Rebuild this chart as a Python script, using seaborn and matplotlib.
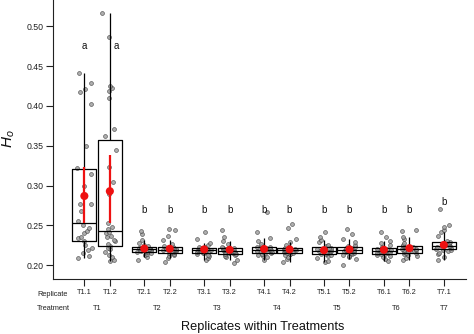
import numpy as np
import pandas as pd
import matplotlib
matplotlib.use("Agg")
import matplotlib.pyplot as plt
import seaborn as sns
from matplotlib.transforms import blended_transform_factory

# Observed heterozygosity (Ho) per replicate
replicates = ["T1.1", "T1.2", "T2.1", "T2.2", "T3.1", "T3.2", "T4.1", "T4.2",
              "T5.1", "T5.2", "T6.1", "T6.2", "T7.1"]
treatments = ["T1", "T2", "T3", "T4", "T5", "T6", "T7"]

ho_t1_1 = [0.209, 0.212, 0.215, 0.219, 0.222, 0.226, 0.230, 0.234, 0.236, 0.240,
           0.243, 0.247, 0.251, 0.256, 0.268, 0.277, 0.277, 0.300, 0.315, 0.322,
           0.350, 0.403, 0.418, 0.421, 0.429, 0.441]
ho_t1_2 = [0.205, 0.207, 0.210, 0.213, 0.217, 0.220, 0.222, 0.224, 0.227, 0.230,
           0.232, 0.235, 0.237, 0.240, 0.242, 0.245, 0.2485, 0.2535, 0.290, 0.304,
           0.323, 0.345, 0.362, 0.371, 0.410, 0.419, 0.423, 0.425, 0.487, 0.517]
ho_t2_1 = [0.207, 0.211, 0.213, 0.214, 0.215, 0.2165, 0.2173, 0.218, 0.2185, 0.219,
           0.2195, 0.2198, 0.2202, 0.2206, 0.221, 0.2215, 0.222, 0.2232, 0.224,
           0.2255, 0.228, 0.232, 0.239, 0.243]
ho_t2_2 = [0.2045, 0.2088, 0.2115, 0.2130, 0.2142, 0.2152, 0.2160, 0.2168, 0.2176,
           0.2183, 0.2189, 0.2193, 0.2197, 0.2203, 0.2210, 0.2216, 0.2222, 0.2230,
           0.2236, 0.2262, 0.2320, 0.2372, 0.2440, 0.2452]
ho_t3_1 = [0.2067, 0.2095, 0.2120, 0.2135, 0.2146, 0.2153, 0.2160, 0.2166, 0.2172,
           0.2178, 0.2184, 0.2188, 0.2192, 0.2197, 0.2203, 0.2210, 0.2216, 0.2224,
           0.2233, 0.2250, 0.2280, 0.2330, 0.2422]
ho_t3_2 = [0.2025, 0.2070, 0.2100, 0.2118, 0.2128, 0.2137, 0.2144, 0.2152, 0.2160,
           0.2167, 0.2172, 0.2176, 0.2180, 0.2185, 0.2192, 0.2198, 0.2204, 0.2211,
           0.2218, 0.2235, 0.2265, 0.2300, 0.2360, 0.2443]
ho_t4_1 = [0.2070, 0.2100, 0.2122, 0.2135, 0.2145, 0.2153, 0.2160, 0.2168, 0.2177,
           0.2184, 0.2190, 0.2193, 0.2197, 0.2203, 0.2210, 0.2217, 0.2224, 0.2231,
           0.2243, 0.2268, 0.2300, 0.2340, 0.2422, 0.2673]
ho_t4_2 = [0.2045, 0.2085, 0.2110, 0.2125, 0.2137, 0.2146, 0.2152, 0.2160, 0.2168,
           0.2175, 0.2180, 0.2184, 0.2188, 0.2194, 0.2200, 0.2207, 0.2213, 0.2220,
           0.2228, 0.2250, 0.2290, 0.2330, 0.2472, 0.2519]
ho_t5_1 = [0.2040, 0.2060, 0.2095, 0.2115, 0.2128, 0.2138, 0.2144, 0.2153, 0.2162,
           0.2170, 0.2177, 0.2182, 0.2186, 0.2192, 0.2199, 0.2206, 0.2213, 0.2222,
           0.2240, 0.2258, 0.2290, 0.2320, 0.2360, 0.2422]
ho_t5_2 = [0.2004, 0.2075, 0.2105, 0.2122, 0.2135, 0.2145, 0.2152, 0.2160, 0.2168,
           0.2176, 0.2183, 0.2188, 0.2192, 0.2198, 0.2205, 0.2212, 0.2220, 0.2228,
           0.2236, 0.2255, 0.2290, 0.2330, 0.2390, 0.2452]
ho_t6_1 = [0.2057, 0.2085, 0.2105, 0.2118, 0.2128, 0.2137, 0.2144, 0.2152, 0.2160,
           0.2167, 0.2173, 0.2178, 0.2182, 0.2188, 0.2195, 0.2202, 0.2210, 0.2219,
           0.2230, 0.2250, 0.2280, 0.2310, 0.2350, 0.2422]
ho_t6_2 = [0.2067, 0.2095, 0.2118, 0.2132, 0.2143, 0.2152, 0.2160, 0.2170, 0.2178,
           0.2186, 0.2192, 0.2197, 0.2203, 0.2210, 0.2218, 0.2226, 0.2234, 0.2243,
           0.2255, 0.2280, 0.2330, 0.2359, 0.2434, 0.2443]
ho_t7_1 = [0.2067, 0.2110, 0.2140, 0.2160, 0.2175, 0.2188, 0.2198, 0.2210, 0.2218,
           0.2226, 0.2233, 0.2238, 0.2243, 0.2247, 0.2253, 0.2260, 0.2268, 0.2278,
           0.2290, 0.2300, 0.2368, 0.2422, 0.2443, 0.2485, 0.2506, 0.2703]

ho_values = [ho_t1_1, ho_t1_2, ho_t2_1, ho_t2_2, ho_t3_1, ho_t3_2, ho_t4_1,
             ho_t4_2, ho_t5_1, ho_t5_2, ho_t6_1, ho_t6_2, ho_t7_1]

# Model estimates (mean and interval) per replicate
est_mean = [0.287, 0.293, 0.2210, 0.2208, 0.2200, 0.2195, 0.2205, 0.2200,
            0.2190, 0.2200, 0.2195, 0.2215, 0.2255]
est_low = [0.253, 0.253, 0.2185, 0.2183, 0.2172, 0.2170, 0.2180, 0.2175,
           0.2165, 0.2175, 0.2170, 0.2188, 0.2228]
est_high = [0.324, 0.338, 0.2235, 0.2233, 0.2228, 0.2220, 0.2230, 0.2225,
            0.2215, 0.2225, 0.2220, 0.2242, 0.2282]

# Significance groups
letters = ["a", "a", "b", "b", "b", "b", "b", "b", "b", "b", "b", "b", "b"]
letter_y = [0.4755, 0.4755, 0.269, 0.269, 0.269, 0.269, 0.269, 0.269,
            0.269, 0.269, 0.269, 0.269, 0.280]

# Layout: replicates within a treatment 1 unit apart, treatments 2.35 apart
group_idx = [treatments.index(r.split(".")[0]) for r in replicates]
rep_idx = [int(r.split(".")[1]) - 1 for r in replicates]
pos = [g * 2.35 + k for g, k in zip(group_idx, rep_idx)]
letter_dx = [0.0, 0.26] + [0.0] * 11

df = pd.DataFrame({
    "pos": np.repeat(pos, [len(v) for v in ho_values]),
    "Ho": np.concatenate(ho_values),
})

sns.set_theme(style="ticks")
plt.rcParams["font.family"] = ["Liberation Sans", "DejaVu Sans"]
plt.rcParams["mathtext.fontset"] = "custom"
plt.rcParams["mathtext.it"] = "Liberation Sans:italic"
plt.rcParams["mathtext.rm"] = "Liberation Sans"

W, H = 474, 334
fig = plt.figure(figsize=(W / 100, H / 100), dpi=100)
ax = fig.add_axes([53 / W, 1 - 279 / H, (466 - 53) / W, 279 / H])

np.random.seed(7)
sns.stripplot(data=df, x="pos", y="Ho", native_scale=True, orient="x",
              jitter=0.3, size=2.8, color="#a0a0a0", edgecolor="#3a3a3a",
              linewidth=0.45, alpha=0.85, ax=ax, zorder=1)
sns.boxplot(data=df, x="pos", y="Ho", native_scale=True, orient="x",
            width=0.95, fill=False, color="black", linewidth=0.9,
            showfliers=False, capprops={"visible": False}, ax=ax)

ax.vlines(pos, est_low, est_high, color="#ee1111", linewidth=1.6, zorder=5)
sns.scatterplot(x=pos, y=est_mean, color="#ee1111", s=34, edgecolor="none",
                zorder=6, ax=ax)

for x, dx, y, t in zip(pos, letter_dx, letter_y, letters):
    ax.text(x + dx, y, t, ha="center", va="center", fontsize=7, color="#111111")

ax.set_xlim(-1.23, 14.97)
ax.set_ylim(0.1828, 0.533)
ax.set_yticks([0.20, 0.25, 0.30, 0.35, 0.40, 0.45, 0.50])
ax.set_yticklabels(["0.20", "0.25", "0.30", "0.35", "0.40", "0.45", "0.50"])
ax.set_xticks(pos)
ax.set_xticklabels(replicates)
ax.set_xlabel("")
ax.set_ylabel("")
ax.tick_params(axis="y", length=5, width=0.8, pad=2, labelsize=6.3, colors="#222222")
ax.tick_params(axis="x", length=5, width=0.8, pad=2.5, labelsize=5.3, colors="#222222")
sns.despine(ax=ax)
for s in ("left", "bottom"):
    ax.spines[s].set_linewidth(0.8)
    ax.spines[s].set_color("#222222")

# Treatment labels under the replicate ticks
trans = blended_transform_factory(ax.transData, ax.transAxes)
for gi, tr in enumerate(treatments):
    xs = [p for p, g in zip(pos, group_idx) if g == gi]
    ax.annotate(tr, xy=(np.mean(xs), 0), xycoords=trans, xytext=(0, -29 * 0.72),
                textcoords="offset points", ha="center", va="center",
                fontsize=5.3, color="#222222", annotation_clip=False)

fig.text(37 / W, 1 - 295 / H, "Replicate", ha="left", va="center",
         fontsize=5.3, color="#222222")
fig.text(37 / W, 1 - 308 / H, "Treatment", ha="left", va="center",
         fontsize=5.3, color="#222222")
fig.text(263 / W, 1 - 327 / H, "Replicates within Treatments", ha="center",
         va="center", fontsize=9.2, color="#111111")
fig.text(9 / W, 1 - 139 / H, r"$H_o$", rotation=90, ha="center", va="center",
         fontsize=11, color="#111111")

fig.savefig("out.png", dpi=100, facecolor="white")
